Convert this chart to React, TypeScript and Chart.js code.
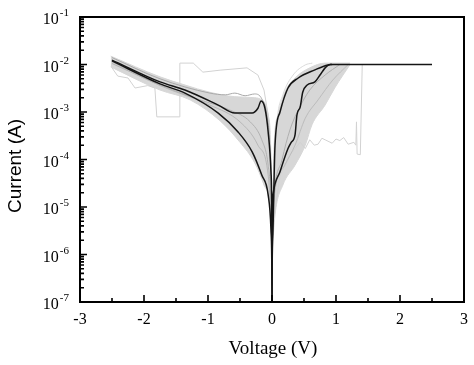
import { useEffect, useRef } from 'react';
import { Chart, registerables } from 'chart.js';

Chart.register(...registerables);

// ---- axis ticks ----
const xTickValues = [-3, -2, -1, 0, 1, 2, 3];
const xMinorValues = [-2.5, -1.5, -0.5, 0.5, 1.5, 2.5];
const yTickExponents = [-7, -6, -5, -4, -3, -2, -1];

// ---- black sweeps ----
const blackAV = [-2.5, -1.75, -1.36, -0.84, -0.58, -0.31, -0.22, -0.17, -0.11, -0.06, -0.016, -0.004, 0, 0.004, 0.016, 0.125, 0.25, 0.3, 0.36, 0.39, 0.44, 0.48, 0.55, 0.67, 0.75, 0.83, 0.91, 2.5];
const blackAI = [1.24e-2, 4.3e-3, 2.9e-3, 1.4e-3, 9.5e-4, 9.5e-4, 1.2e-3, 1.7e-3, 1.2e-3, 3.8e-4, 5.5e-5, 8e-6, 1e-7, 6e-6, 1.8e-5, 5.5e-5, 1.7e-4, 2.3e-4, 3.3e-4, 8.7e-4, 1.27e-3, 2.6e-3, 3.7e-3, 4.3e-3, 6.0e-3, 8.5e-3, 1e-2, 1e-2];

const blackBV = [-2.5, -1.75, -1.36, -0.84, -0.53, -0.31, -0.16, -0.06, -0.016, -0.003, 0, 0.003, 0.016, 0.047, 0.125, 0.25, 0.41, 0.67, 0.875, 0.94];
const blackBI = [1.19e-2, 3.9e-3, 2.5e-3, 9.5e-4, 3.8e-4, 1.45e-4, 4.7e-5, 1.8e-5, 3.3e-6, 6e-7, 1e-7, 6e-7, 3.3e-6, 2.0e-4, 1e-3, 3.2e-3, 5.2e-3, 7.7e-3, 9.8e-3, 1e-2];

// ---- grey sweeps inside the cluster ----
const grayAV = [-2.5, -1.75, -0.97, -0.73, -0.58, -0.42, -0.27, -0.16, -0.08, -0.03, 0];
const grayAI = [1.4e-2, 5e-3, 2.5e-3, 2.3e-3, 2.5e-3, 2.2e-3, 2.4e-3, 1.9e-3, 8.7e-4, 1.6e-4, 5.4e-6];
const grayBV = [-2.5, -1.75, -1.125, -0.66, -0.34, -0.16, -0.06, -0.016, 0];
const grayBI = [1.05e-2, 3.7e-3, 1.8e-3, 1.1e-3, 6.2e-4, 2.6e-4, 7.6e-5, 1.4e-5, 2e-6];
const grayEV = [-2.5, -1.75, -0.97, -0.5, -0.22, -0.06, 0];
const grayEI = [1.13e-2, 3.6e-3, 1.4e-3, 6.2e-4, 2.0e-4, 4.7e-5, 3.3e-6];
const grayCV = [0, 0.016, 0.156, 0.28, 0.41, 0.59, 0.83, 1.06];
const grayCI = [2e-6, 8.7e-6, 9.8e-5, 4.2e-4, 1.1e-3, 2.9e-3, 6e-3, 1e-2];
const grayDV = [0, 0.03, 0.2, 0.36, 0.52, 0.72, 0.95, 1.19];
const grayDI = [2e-6, 1.4e-5, 7.6e-5, 2e-4, 7.4e-4, 1.8e-3, 4.7e-3, 1e-2];

// ---- light outlier sweeps ----
const outLV = [-2.5, -2.41, -2.25, -2.14, -1.94, -1.83, -1.8, -1.45, -1.44, -1.23, -1.08, -0.81, -0.39, -0.22, -0.125, -0.06, -0.016, 0];
const outLI = [8.5e-3, 5.7e-3, 5.2e-3, 3.2e-3, 3.6e-3, 3.2e-3, 7.9e-4, 7.9e-4, 1.07e-2, 1.07e-2, 6.9e-3, 7.6e-3, 8.5e-3, 6.0e-3, 2.9e-3, 8.7e-4, 1e-4, 3e-6];
const outR1V = [0, 0.125, 0.28, 0.44, 0.52, 0.59, 0.66, 0.72, 0.78, 0.83, 0.94, 1.0, 1.06, 1.12, 1.19, 1.28, 1.31, 1.32, 1.33, 1.38, 1.41, 1.6];
const outR1I = [3e-6, 4.7e-5, 1.26e-4, 2.3e-4, 1.7e-4, 2.6e-4, 2.0e-4, 2.1e-4, 2.8e-4, 2.6e-4, 2.2e-4, 2.7e-4, 2.5e-4, 2.9e-4, 2.1e-4, 2.3e-4, 2.0e-4, 6.2e-4, 1.3e-4, 1.26e-4, 1e-2, 1e-2];
const outR2V = [0, 0.03, 0.08, 0.17, 0.33, 0.52, 0.63];
const outR2I = [3e-6, 6e-5, 6.8e-4, 2.3e-3, 6e-3, 9.8e-3, 1.07e-2];

// ---- dense grey cluster outlines ----
const bandLUpperV = [-2.52, -1.75, -1.36, -0.97, -0.58, -0.27, -0.16, -0.06, -0.016, 0];
const bandLUpperI = [1.5e-2, 5.5e-3, 3.7e-3, 2.6e-3, 2.1e-3, 2.0e-3, 1.8e-3, 8.7e-4, 1e-4, 1e-6];
const bandLLowerV = [-2.52, -1.75, -1.28, -0.81, -0.5, -0.27, -0.125, -0.03, 0];
const bandLLowerI = [8.9e-3, 2.9e-3, 1.8e-3, 6.5e-4, 2.3e-4, 8.5e-5, 2.9e-5, 8.7e-6, 1e-6];
const bandRLeftV = [0, 0.016, 0.03, 0.094, 0.2, 0.36, 0.59, 0.83, 1.22];
const bandRLeftI = [1e-6, 1.4e-5, 1.6e-4, 8.7e-4, 2.6e-3, 5.2e-3, 8.5e-3, 1.07e-2, 1.07e-2];
const bandRRightV = [0, 0.047, 0.17, 0.36, 0.52, 0.625, 0.83, 0.98, 1.11, 1.22];
const bandRRightI = [1e-6, 6.8e-6, 2.9e-5, 7.6e-5, 2.0e-4, 5.4e-4, 1.4e-3, 3.2e-3, 6.0e-3, 1e-2];

const pts = (v: number[], c: number[]) => v.map((x, k) => ({ x, y: c[k] }));

const axisPlugin = {
  id: 'axisFrame',
  afterDraw(chart: any) {
    const { ctx, chartArea: a } = chart;
    const xs = chart.scales.x;
    const ys = chart.scales.y;
    ctx.save();
    ctx.strokeStyle = '#000';
    ctx.lineWidth = 1.6;
    ctx.beginPath();
    xTickValues.forEach((v) => {
      const px = xs.getPixelForValue(v);
      ctx.moveTo(px, a.bottom);
      ctx.lineTo(px, a.bottom - 7);
    });
    xMinorValues.forEach((v) => {
      const px = xs.getPixelForValue(v);
      ctx.moveTo(px, a.bottom);
      ctx.lineTo(px, a.bottom - 4);
    });
    yTickExponents.forEach((e) => {
      const py = ys.getPixelForValue(Math.pow(10, e));
      ctx.moveTo(a.left, py);
      ctx.lineTo(a.left + 7, py);
      if (e < -1) {
        for (let k = 2; k <= 9; k++) {
          const pm = ys.getPixelForValue(k * Math.pow(10, e));
          ctx.moveTo(a.left, pm);
          ctx.lineTo(a.left + 4, pm);
        }
      }
    });
    ctx.stroke();
    ctx.lineWidth = 2;
    ctx.strokeRect(a.left, a.top, a.right - a.left, a.bottom - a.top);

    ctx.fillStyle = '#000';
    ctx.textBaseline = 'alphabetic';
    ctx.font = '16px "Liberation Serif"';
    ctx.textAlign = 'center';
    xTickValues.forEach((v) => {
      ctx.fillText(String(v), xs.getPixelForValue(v), a.bottom + 22);
    });

    yTickExponents.forEach((e) => {
      const py = ys.getPixelForValue(Math.pow(10, e));
      const sup = String(e);
      ctx.font = '11px "Liberation Serif"';
      const w2 = ctx.measureText(sup).width;
      ctx.font = '16px "Liberation Serif"';
      const w1 = ctx.measureText('10').width;
      const right = a.left - 11;
      ctx.textAlign = 'left';
      ctx.fillText('10', right - w2 - 1 - w1, py + 7);
      ctx.font = '11px "Liberation Serif"';
      ctx.fillText(sup, right - w2, py - 1);
    });

    ctx.textAlign = 'center';
    ctx.font = '19px "Liberation Serif"';
    ctx.fillText('Voltage (V)', (a.left + a.right) / 2 + 1, 354);

    ctx.save();
    ctx.translate(21, 166);
    ctx.rotate(-Math.PI / 2);
    ctx.font = '19px "Liberation Sans"';
    ctx.fillText('Current (A)', 0, 0);
    ctx.restore();
    ctx.restore();
  },
};

export default function App() {
  const ref = useRef<HTMLCanvasElement | null>(null);
  useEffect(() => {
    if (!ref.current) return;
    const line = (data: any[], color: string, width: number, order: number, smooth = false) => ({
      data,
      showLine: true,
      borderColor: color,
      borderWidth: width,
      pointRadius: 0,
      tension: smooth ? 0.4 : 0,
      cubicInterpolationMode: smooth ? 'monotone' : 'default',
      fill: false,
      order,
    });
    const datasets: any[] = [
      line(pts(blackAV, blackAI), '#151515', 1.5, 0, true),
      line(pts(blackBV, blackBI), '#151515', 1.5, 0, true),
      line(pts(grayAV, grayAI), '#a9a9a9', 1, 1, true),
      line(pts(grayBV, grayBI), '#b2b2b2', 1, 1, true),
      line(pts(grayEV, grayEI), '#b8b8b8', 1, 1, true),
      line(pts(grayCV, grayCI), '#b0b0b0', 1, 1, true),
      line(pts(grayDV, grayDI), '#bcbcbc', 1, 1, true),
      line(pts(outLV, outLI), '#d2d2d2', 1, 2),
      line(pts(outR1V, outR1I), '#d2d2d2', 1, 2),
      line(pts(outR2V, outR2I), '#dadada', 1, 2, true),
    ];
    const bandColor = '#d7d7d7';
    const lu = datasets.length;
    datasets.push({ ...line(pts(bandLUpperV, bandLUpperI), bandColor, 1, 5, true), fill: lu + 1, backgroundColor: bandColor });
    datasets.push(line(pts(bandLLowerV, bandLLowerI), bandColor, 1, 5, true));
    const rl = datasets.length;
    datasets.push({ ...line(pts(bandRLeftV, bandRLeftI), bandColor, 1, 5, true), fill: rl + 1, backgroundColor: bandColor });
    datasets.push(line(pts(bandRRightV, bandRRightI), bandColor, 1, 5, true));

    const chart = new Chart(ref.current, {
      type: 'scatter',
      data: { datasets },
      options: {
        animation: false,
        responsive: true,
        maintainAspectRatio: false,
        events: [],
        layout: { padding: { left: 80, top: 17, right: 10, bottom: 63 } },
        plugins: { legend: { display: false }, tooltip: { enabled: false } },
        scales: {
          x: { type: 'linear', min: -3, max: 3, display: false },
          y: { type: 'logarithmic', min: 1e-7, max: 1e-1, display: false },
        },
      },
      plugins: [axisPlugin],
    });
    return () => chart.destroy();
  }, []);
  return (
    <div style={{ position: 'fixed', left: 0, top: 0, width: 474, height: 365, background: '#fff' }}>
      <canvas ref={ref} style={{ display: 'block' }} />
    </div>
  );
}
